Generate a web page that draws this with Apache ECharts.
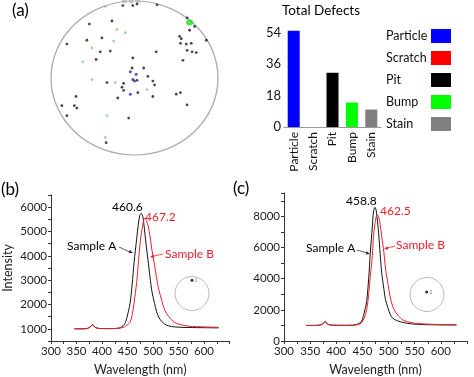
<!DOCTYPE html>
<html>
<head>
<meta charset="utf-8">
<script src="https://cdn.jsdelivr.net/npm/echarts@6/dist/echarts.min.js"></script>
<style>
html, body { margin: 0; padding: 0; background: #fff; }
#chart { width: 474px; height: 377px; }
</style>
</head>
<body>
<div id="chart"></div>
<script>
// ---- (a) wafer map, positions in % of wafer radius ----
var waferPit = [[-14,94],[-2,94],[3,96],[27,95],[-27,74],[-54,70],[-39,52],[-57,49],[-81,44],[-41,34],
  [-29,35],[26,34],[-46,24],[63,78],[72,67],[66,62],[54,54],[56,51],[86,49],[55,45],[62,44],[68,45],
  [63,36],[69,34],[74,33],[58,23],[-2,26],[-3,13],[11,13],[16,2],[3,-3],[-33,-6],[-13,-7],[22,-4],
  [24,-9],[-13,-16],[-15,-12],[4,-19],[22,-24],[-20,-26],[50,-21],[55,-19],[-70,-24],[-72,-36],
  [-87,-36],[-69,-39],[-81,-49],[-7,-52],[63,-35],[-34,-84]];
var waferParticle = [[-5,8],[2,5],[-2,-2],[0,-4],[-5,-21]];
var waferBump = [[-35,93],[-21,63],[-11,59],[-25,48],[-51,39],[-62,21],[-23,-6],[15,-15],[-51,-2],[-33,-49],[-35,-77]];
var waferBumpBlob = [[66,72]];
var waferStain = [[-12,100],[-4,100],[4,100]];

// ---- (a) total defects ----
var categories = ['Particle', 'Scratch', 'Pit', 'Bump', 'Stain'];
var defectCounts = [55, 0, 31, 14, 10];
var defectColors = ['#0000ff', '#ff0000', '#000000', '#00ff00', '#808080'];

// ---- (b) spectra (wavelength) ----
var bWave = [346,357,368,374,379,382,385,390,400,411,433,444,449,455,459,463,468,471,474,477,
  480,482,484,487,491,494,498,503,507,511,517,523,531,542,553,569,585,607,629];
var bSampleA = [1000,1000,1005,1040,1120,1170,1090,1030,1010,1010,1030,1190,1480,2050,2800,3750,4700,5270,5650,5750,
  5610,5320,4940,4370,3700,3140,2520,2050,1710,1480,1310,1190,1120,1080,1065,1055,1050,1045,1040];
var bSampleB = [1000,1000,1005,1040,1120,1170,1090,1030,1010,1010,1020,1080,1150,1270,1550,2090,2910,3640,4370,4910,
  5280,5480,5550,5460,5190,4820,4230,3640,3090,2640,2180,1770,1500,1270,1180,1110,1090,1075,1065];

// ---- (c) spectra ----
var cWave = [342,354,365,371,376,379,382,387,398,409,431,442,448,453,458,462,465,469,471,474,
  476,478,481,484,487,491,494,499,503,508,514,520,527,536,547,564,586,608,630];
var cSampleA = [1000,1000,1005,1050,1150,1260,1120,1040,1010,1005,1010,1100,1250,1760,2520,4030,5620,7370,8280,8580,
  8430,7900,6910,5550,4340,3350,2670,2100,1720,1455,1340,1265,1190,1135,1090,1060,1040,1030,1025];
var cSampleB = [1000,1000,1005,1050,1150,1260,1120,1040,1010,1005,1010,1060,1150,1450,2000,2990,4130,5480,6690,7540,
  7930,8110,7970,7470,6690,5690,4700,3630,2850,2210,1820,1570,1360,1235,1155,1100,1070,1055,1045];

var FONT = 'Lato';
var RED = '#e8202a';

function pairs(xs, ys) {
  return xs.map(function (x, i) { return [x, ys[i]]; });
}

var chart = echarts.init(document.getElementById('chart'), null, { renderer: 'canvas' });

var hiddenAxis = function (idx, min, max) {
  return { type: 'value', gridIndex: idx, min: min, max: max, show: false };
};

var barSeries = categories.map(function (name, i) {
  return {
    type: 'bar', name: name, stack: 'total', xAxisIndex: 1, yAxisIndex: 1,
    barWidth: 12,
    itemStyle: { color: defectColors[i] },
    data: categories.map(function (c, j) { return j === i ? defectCounts[j] : '-'; })
  };
});

var specAxisX = function (idx) {
  return {
    type: 'value', gridIndex: idx, min: 300, max: 650, interval: 25,
    name: 'Wavelength (nm)', nameLocation: 'middle', nameGap: 22,
    nameTextStyle: { fontFamily: FONT, fontSize: 12.5, color: '#222' },
    axisLine: { lineStyle: { color: '#333' } },
    axisTick: { length: 3, lineStyle: { color: '#333' } },
    splitLine: { show: false },
    axisLabel: {
      fontFamily: FONT, fontSize: 11.5, color: '#222', margin: 4,
      formatter: function (v) { return (v % 50 === 0 && v <= 600) ? v : ''; }
    }
  };
};

var txt = function (x, y, s, size, color) {
  return { type: 'text', left: x, top: y,
    style: { text: s, font: size + 'px "' + FONT + '"', fill: color || '#000' } };
};
var arrow = function (line, head, color) {
  return [
    { type: 'line', shape: { x1: line[0], y1: line[1], x2: line[2], y2: line[3] },
      style: { stroke: color, lineWidth: 0.8 } },
    { type: 'polygon', shape: { points: head }, style: { fill: color } }
  ];
};

var option = {
  animation: false,
  textStyle: { fontFamily: FONT },
  grid: [
    { left: 51, top: 1, width: 167, height: 154 },     // wafer
    { left: 284, top: 22, width: 97, height: 105 },    // total defects
    { left: 47.5, top: 195, width: 182, height: 147 }, // (b)
    { left: 284, top: 193, width: 183, height: 149 },  // (c)
    { left: 175, top: 276.5, width: 34, height: 34 },  // inset b
    { left: 410, top: 277.5, width: 34, height: 34 }   // inset c
  ],
  xAxis: [
    hiddenAxis(0, -100, 100),
    {
      type: 'category', gridIndex: 1, data: categories,
      axisLine: { lineStyle: { color: '#999' } },
      axisTick: { show: false },
      axisLabel: { rotate: 90, fontFamily: FONT, fontSize: 12, color: '#111', margin: 5, interval: 0 }
    },
    specAxisX(2),
    specAxisX(3),
    hiddenAxis(4, -100, 100),
    hiddenAxis(5, -100, 100)
  ],
  yAxis: [
    hiddenAxis(0, -100, 100),
    {
      type: 'value', gridIndex: 1, min: 0, max: 60, interval: 18,
      axisLine: { show: false }, axisTick: { show: false }, splitLine: { show: false },
      axisLabel: { fontFamily: FONT, fontSize: 13, color: '#111', margin: 3,
        formatter: function (v) { return v <= 54 ? v : ''; } }
    },
    {
      type: 'value', gridIndex: 2, min: 500, max: 6500, interval: 500,
      name: 'Intensity', nameLocation: 'middle', nameGap: 37, nameRotate: 90,
      nameTextStyle: { fontFamily: FONT, fontSize: 12.5, color: '#222' },
      axisLine: { show: true, lineStyle: { color: '#333' } },
      axisTick: { show: true, length: 3, lineStyle: { color: '#333' } },
      splitLine: { show: false },
      axisLabel: { fontFamily: FONT, fontSize: 11.5, color: '#222', margin: 4,
        formatter: function (v) { return v % 1000 === 0 ? v : ''; } }
    },
    {
      type: 'value', gridIndex: 3, min: 0, max: 9500, interval: 1000,
      axisLine: { show: true, lineStyle: { color: '#333' } },
      axisTick: { show: true, length: 3, lineStyle: { color: '#333' } },
      splitLine: { show: false },
      axisLabel: { fontFamily: FONT, fontSize: 11.5, color: '#222', margin: 4,
        formatter: function (v) { return v % 2000 === 0 ? v : ''; } }
    },
    hiddenAxis(4, -100, 100),
    hiddenAxis(5, -100, 100)
  ],
  legend: {
    data: categories, orient: 'vertical', left: 381, top: 24,
    itemWidth: 20, itemHeight: 14, itemGap: 8, align: 'right', icon: 'rect',
    selectedMode: false,
    formatter: '{t|{name}}',
    textStyle: { fontFamily: FONT, fontSize: 12.5, color: '#111',
      rich: { t: { width: 40, align: 'left', fontFamily: FONT, fontSize: 12.5, color: '#111' } } }
  },
  series: [
    // wafer outline + defects
    { type: 'scatter', name: 'wafer', xAxisIndex: 0, yAxisIndex: 0, silent: true,
      symbol: 'circle', symbolSize: [167, 154], data: [[0, 0]],
      itemStyle: { color: 'rgba(0,0,0,0)', borderColor: '#999', borderWidth: 1.3 } },
    { type: 'scatter', name: 'wStain', xAxisIndex: 0, yAxisIndex: 0, symbolSize: 5,
      data: waferStain, itemStyle: { color: '#b8b8b8' } },
    { type: 'scatter', name: 'wPit', xAxisIndex: 0, yAxisIndex: 0, symbolSize: 2.8,
      data: waferPit, itemStyle: { color: '#1a1a2a' } },
    { type: 'scatter', name: 'wParticle', xAxisIndex: 0, yAxisIndex: 0, symbolSize: 3,
      data: waferParticle, itemStyle: { color: '#2a2aa0' } },
    { type: 'scatter', name: 'wBump', xAxisIndex: 0, yAxisIndex: 0, symbolSize: 2.8,
      data: waferBump, itemStyle: { color: '#7ccf7c' } },
    { type: 'scatter', name: 'wBumpBlob', xAxisIndex: 0, yAxisIndex: 0, symbolSize: [7, 6],
      data: waferBumpBlob, itemStyle: { color: '#22dd22' } }
  ].concat(barSeries).concat([
    { type: 'line', name: 'bA', xAxisIndex: 2, yAxisIndex: 2, showSymbol: false, smooth: 0.3,
      data: pairs(bWave, bSampleA), lineStyle: { color: '#111', width: 1 } },
    { type: 'line', name: 'bB', xAxisIndex: 2, yAxisIndex: 2, showSymbol: false, smooth: 0.3,
      data: pairs(bWave, bSampleB), lineStyle: { color: RED, width: 1 } },
    { type: 'line', name: 'cA', xAxisIndex: 3, yAxisIndex: 3, showSymbol: false, smooth: 0.3,
      data: pairs(cWave, cSampleA), lineStyle: { color: '#111', width: 1 } },
    { type: 'line', name: 'cB', xAxisIndex: 3, yAxisIndex: 3, showSymbol: false, smooth: 0.3,
      data: pairs(cWave, cSampleB), lineStyle: { color: RED, width: 1 } },
    // insets
    { type: 'scatter', xAxisIndex: 4, yAxisIndex: 4, silent: true, symbolSize: 34, data: [[0, 0]],
      itemStyle: { color: 'rgba(0,0,0,0)', borderColor: '#aaa', borderWidth: 1 } },
    { type: 'scatter', xAxisIndex: 4, yAxisIndex: 4, symbolSize: 3, data: [[0, 78]],
      itemStyle: { color: '#000' },
      label: { show: true, formatter: '1', position: 'right', distance: 1, fontSize: 5, color: '#555' } },
    { type: 'scatter', xAxisIndex: 5, yAxisIndex: 5, silent: true, symbolSize: 34, data: [[0, 0]],
      itemStyle: { color: 'rgba(0,0,0,0)', borderColor: '#aaa', borderWidth: 1 } },
    { type: 'scatter', xAxisIndex: 5, yAxisIndex: 5, symbolSize: 3, data: [[-2, 14]],
      itemStyle: { color: '#000' },
      label: { show: true, formatter: '2', position: 'right', distance: 1, fontSize: 5, color: '#555' } }
  ]),
  graphic: [
    txt(12, 2, '(a)', 17),
    txt(1, 181, '(b)', 17),
    txt(233, 180, '(c)', 17),
    txt(282, 4, 'Total Defects', 13.5),
    // (b) annotations
    txt(112, 201, '460.6', 12),
    txt(145, 211, '467.2', 12, RED),
    txt(67, 240, 'Sample A', 12),
    txt(165, 248, 'Sample B', 12, RED),
    // (c) annotations
    txt(346, 195, '458.8', 12),
    txt(380, 205, '462.5', 12, RED),
    txt(306, 242, 'Sample A', 12),
    txt(396, 239, 'Sample B', 12, RED)
  ].concat(arrow([119, 247, 131, 252.5], [[133, 253], [128.6, 253.1], [130.0, 249.8]], '#333'))
   .concat(arrow([163, 254, 152, 256.5], [[150, 257], [153.5, 254.4], [154.3, 257.9]], RED))
   .concat(arrow([357, 250, 368, 253.4], [[370, 254], [365.7, 254.5], [366.7, 251.1]], '#333'))
   .concat(arrow([395, 246, 386, 248.5], [[384, 249], [387.4, 246.2], [388.4, 249.6]], RED))
};

chart.setOption(option);
</script>
</body>
</html>
